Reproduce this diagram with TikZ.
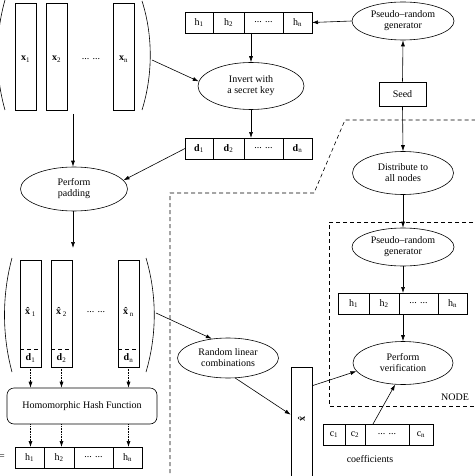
\documentclass[tikz,border=0pt]{standalone}
\usepackage{fontspec}
\setmainfont{Liberation Serif}
\usetikzlibrary{shapes.geometric,arrows.meta,calc}
\begin{document}
\begin{tikzpicture}[x=1pt,y=-1pt,line width=0.6pt,
  font=\fontsize{10}{11}\selectfont,
  cell/.style={draw,rectangle,inner sep=0pt,outer sep=0pt,minimum height=21pt},
  col/.style={draw,rectangle,inner sep=0pt,outer sep=0pt,minimum width=21pt,minimum height=107pt},
  oval/.style={draw,ellipse,inner sep=0pt,align=center},
  arr/.style={-{Latex[length=6pt,width=4pt]}},
  darr/.style={arr,densely dotted},
  region/.style={dashed,dash pattern=on 4pt off 3pt}]
\useasboundingbox (0,0) rectangle (474,476);

% top matrix
\node[col] (x1) at (25.5,56.5) {};
\node[col] (x2) at (56.5,56.5) {};
\node[col] (xn) at (123.5,56.5) {};
\node at (25.5,59) {\textbf{x}\textsubscript{1}};
\node at (56.5,59) {\textbf{x}\textsubscript{2}};
\node at (123.5,59) {\textbf{x}\textsubscript{n}};
\node (tdots) at (91,59) {... ...};
\draw (5,0) .. controls (-5,35) and (-5,75) .. (5,110);
\draw (142,1) .. controls (153,35) and (153,75) .. (142,110);
\coordinate (tparen) at (152,60);
\coordinate (tmb) at (73,114);

% top h row
\node[cell,minimum width=28pt] (ta1) at (199,22.5) {h\textsubscript{1}};
\node[cell,minimum width=31pt] (ta2) at (228.5,22.5) {h\textsubscript{2}};
\node[cell,minimum width=39pt] (ta3) at (263.5,22.5) {... ...};
\node[cell,minimum width=29pt] (ta4) at (297.5,22.5) {h\textsubscript{n}};

% d row
\node[cell,minimum width=28pt] (da1) at (199,148.5) {\textbf{d}\textsubscript{1}};
\node[cell,minimum width=31pt] (da2) at (228.5,148.5) {\textbf{d}\textsubscript{2}};
\node[cell,minimum width=39pt] (da3) at (263.5,148.5) {... ...};
\node[cell,minimum width=29pt] (da4) at (297.5,148.5) {\textbf{d}\textsubscript{n}};

% ovals
\node[oval,minimum width=102pt,minimum height=38pt] (prg1) at (403,21) {Pseudo–random\\generator};
\node[oval,minimum width=106pt,minimum height=47pt] (inv) at (251,86) {Invert with\\a secret key};
\node[draw,rectangle,minimum width=47pt,minimum height=24pt,inner sep=0pt] (seed) at (402.5,94) {Seed};
\node[oval,minimum width=101pt,minimum height=43pt] (dist) at (403,173) {Distribute to\\all nodes};
\node[oval,minimum width=107pt,minimum height=44pt] (pad) at (74,189) {Perform\\padding};
\node[oval,minimum width=102pt,minimum height=38pt] (prg2) at (403,247) {Pseudo–random\\generator};
\node[oval,minimum width=101pt,minimum height=40pt] (rand) at (228,358) {Random linear\\combinations};
\node[oval,minimum width=100pt,minimum height=43pt] (ver) at (403,363) {Perform\\verification};

% h row 2
\node[cell,minimum width=31pt] (hb1) at (353.5,303.5) {h\textsubscript{1}};
\node[cell,minimum width=30pt] (hb2) at (384,303.5) {h\textsubscript{2}};
\node[cell,minimum width=39pt] (hb3) at (418.5,303.5) {... ...};
\node[cell,minimum width=29pt] (hb4) at (452.5,303.5) {h\textsubscript{n}};

% bottom matrix
\node[col] (bx1) at (30.5,313.5) {};
\node[col] (bx2) at (61.5,313.5) {};
\node[col] (bxn) at (128.5,313.5) {};
\foreach \c in {bx1,bx2,bxn}{
  \draw[region] ($(\c.south west)+(0,-18)$) -- ($(\c.south east)+(0,-18)$);
}
\node at (30.5,312) {\textbf{\^{x}}\textsubscript{1}};
\node at (61.5,312) {\textbf{\^{x}}\textsubscript{2}};
\node at (128.5,312) {\textbf{\^{x}}\textsubscript{n}};
\node at (30.5,358) {\textbf{d}\textsubscript{1}};
\node at (61.5,358) {\textbf{d}\textsubscript{2}};
\node at (128.5,358) {\textbf{d}\textsubscript{n}};
\node (bdots) at (96,312) {... ...};
\draw (12,258) .. controls (2,295) and (2,335) .. (12,372);
\draw (146,258) .. controls (157,295) and (157,335) .. (146,372);
\coordinate (bparen) at (156,313);
\coordinate (bmt) at (73,248);

% hash function
\node[draw,rectangle,rounded corners=7pt,minimum width=150pt,minimum height=36pt,inner sep=0pt] (hash) at (82,406) {Homomorphic Hash Function};

% bottom h row
\node[cell,minimum width=29pt] (hc1) at (29.5,457.5) {h\textsubscript{1}};
\node[cell,minimum width=30pt] (hc2) at (59,457.5) {h\textsubscript{2}};
\node[cell,minimum width=39pt] (hc3) at (93.5,457.5) {... ...};
\node[cell,minimum width=29pt] (hc4) at (127.5,457.5) {h\textsubscript{n}};
\node (eq) at (2,457) {=};

% x hat column
\node[draw,rectangle,minimum width=21pt,minimum height=113pt,inner sep=0pt] (xh) at (301.5,423.5) {};
\node[rotate=90] (xhl) at (301.5,418) {\textbf{\^{x}}};

% coefficients
\node[cell,minimum width=22pt] (cc1) at (334,434.5) {c\textsubscript{1}};
\node[cell,minimum width=20pt] (cc2) at (355,434.5) {c\textsubscript{2}};
\node[cell,minimum width=44pt] (cc3) at (387,434.5) {... ...};
\node[cell,minimum width=24pt] (cc4) at (421,434.5) {c\textsubscript{n}};
\node (coef) at (370,459) {coefficients};

% dashed regions
\draw[region] (170,480) -- (170,193) -- (314,193) -- (345,120) -- (480,120);
\draw[region] (480,222) -- (329,222) -- (329,406) -- (480,406);
\node (nodelbl) at (455,397) {NODE};

% connectors
\draw[arr] (prg1.west) -- (ta4.east);
\draw[arr] (seed.north) -- (prg1.south);
\draw[arr] (seed.south) -- (dist.north);
\draw[arr] (dist.south) -- (prg2.north);
\draw[arr] (prg2.south) -- (prg2.south |- hb3.north);
\draw[arr] (prg2.south |- hb3.south) -- (ver.north);
\draw[arr] (inv.north |- ta3.south) -- (inv.north);
\draw[arr] (inv.south) -- (inv.south |- da3.north);
\draw[arr] (da1.west) -- (pad.10);
\draw[arr] (tparen) -- (inv.175);
\draw[arr] (tmb) -- (pad.north -| tmb);
\draw[arr] (pad.south -| bmt) -- (bmt);
\draw[arr] (bparen) -- (rand.130);
\draw[arr] (rand.-70) -- ($(xh.north west)+(0,48)$);
\draw[arr] ($(xh.north east)+(0,19)$) -- (ver.190);
\draw[arr] ($(cc3.north west)+(8,0)$) -- (ver.-110);
\foreach \c/\h in {bx1/hc1,bx2/hc2,bxn/hc4}{
  \draw[darr] (\c.south) -- (\c.south |- hash.north);
  \draw[darr] (\c.south |- hash.south) -- (\c.south |- \h.north);
}
\end{tikzpicture}
\end{document}
